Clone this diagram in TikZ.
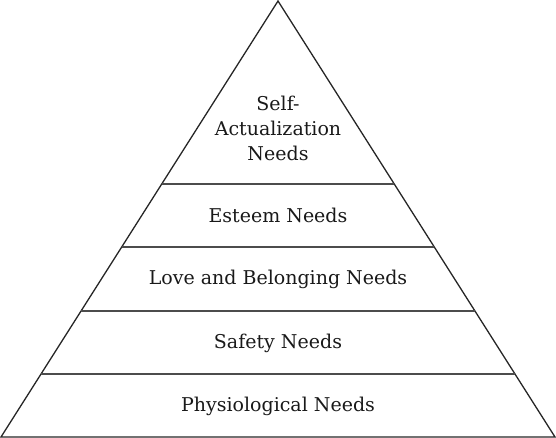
\documentclass[tikz,border=0pt]{standalone}
\usepackage{fontspec}
\setmainfont{DejaVu Serif}
\usetikzlibrary{calc}
\begin{document}
\begin{tikzpicture}[x=1pt,y=-1pt,
  edge/.style={line width=1.3pt,draw=black!85},
  tier/.style={line width=1.3pt,draw=black!70},
  lbl/.style={font=\fontsize{19}{25}\selectfont,text=black!90,align=center,inner sep=0pt}]
\useasboundingbox (0,0) rectangle (556,438);
\coordinate (apex) at (278,1);
\coordinate (bl) at (1,437);
\coordinate (br) at (555,437);
\draw[edge,line join=miter] (apex) -- (br) -- (bl) -- cycle;
\foreach \y/\n in {184/a,247/b,311/c,374/d}{
  \pgfmathsetmacro{\t}{(\y-1)/436}
  \coordinate (l\n) at ($(apex)!\t!(bl)$);
  \coordinate (r\n) at ($(apex)!\t!(br)$);
  \draw[tier] (l\n) -- (r\n);
}
\node[lbl] (self) at (278,128) {Self-\\Actualization\\Needs};
\node[lbl] (esteem) at (278,215) {Esteem Needs};
\node[lbl] (love) at (278,279) {Love and Belonging Needs};
\node[lbl] (safety) at (278,343) {Safety Needs};
\node[lbl] (phys) at (278,406) {Physiological Needs};
\end{tikzpicture}
\end{document}
